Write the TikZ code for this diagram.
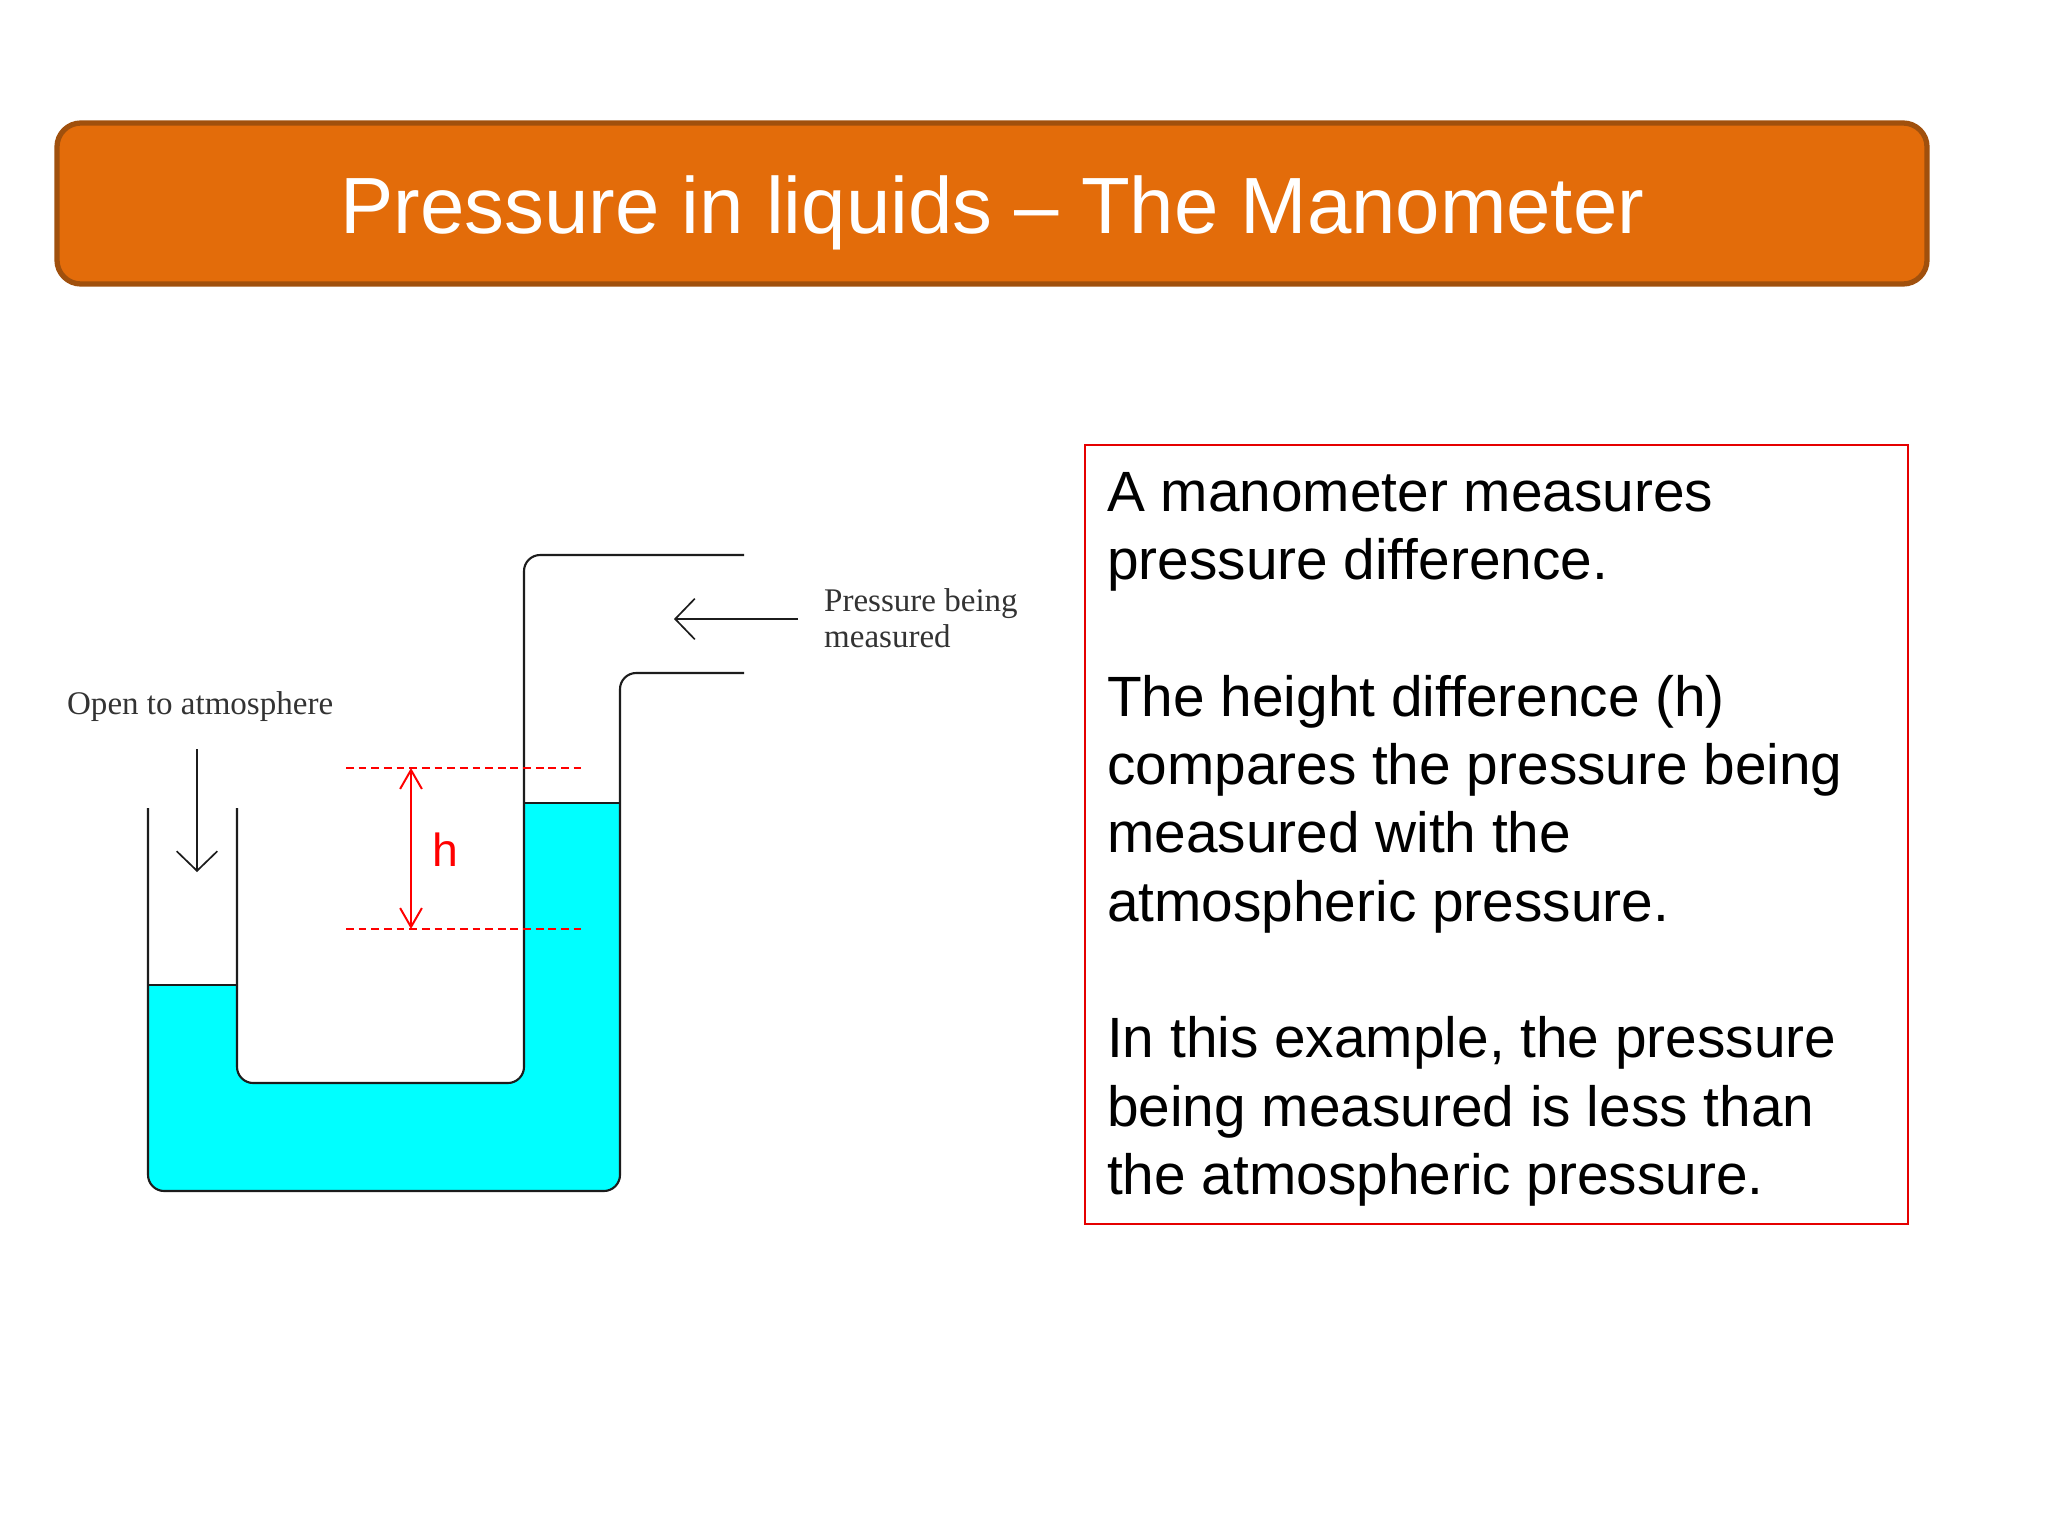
\documentclass[tikz,border=0pt]{standalone}
\usepackage{fontspec}
\usetikzlibrary{arrows.meta}
\setmainfont{Liberation Sans}
\newfontfamily\labelserif{Liberation Serif}
\definecolor{titlefill}{HTML}{E36C0A}
\definecolor{titleedge}{HTML}{A0500D}
\definecolor{tubeline}{HTML}{1C1C1C}
\definecolor{liquidcyan}{HTML}{00FFFF}
\tikzset{
  titlebox/.style={draw=titleedge,fill=titlefill,line width=7.5pt,rounded corners=34pt},
  notebox/.style={draw=red!90!black,line width=2.6pt},
  tube/.style={draw=tubeline,line width=3pt,rounded corners=23pt},
  liquid/.style={fill=liquidcyan,draw=none,rounded corners=23pt},
  level/.style={draw=tubeline,line width=3pt},
  guide/.style={draw=red,line width=2pt,dash pattern=on 11pt off 7pt},
  span/.style={draw=red,line width=2.8pt,{Straight Barb[length=27pt,width=31pt]}-{Straight Barb[length=27pt,width=31pt]}},
  pointer/.style={draw=tubeline,line width=2.4pt,-{Straight Barb[length=28pt,width=58pt]}},
  serifnote/.style={font=\labelserif\fontsize{47pt}{55pt}\selectfont,text=black!80,inner sep=0pt,align=left},
}
\begin{document}
\begin{tikzpicture}[x=0.05cm,y=-0.05cm]
\useasboundingbox (0,0) rectangle (2048,1536);
\fill[white] (0,0) rectangle (2048,1536);
% title
\draw[titlebox] (57,123) rectangle (1927,284);
\node[text=white,inner sep=0pt,font=\fontsize{113.5pt}{120pt}\selectfont] (title) at (992.5,213) {Pressure in liquids – The Manometer};
% note
\draw[notebox] (1085,445) rectangle (1908,1224);
\node[anchor=north west,inner sep=0pt,align=left,font=\fontsize{80.8pt}{97.2pt}\selectfont] (note) at (1107,472) {A manometer measures\\pressure difference.\\[97.2pt]The height difference (h)\\compares the pressure being\\measured with the\\atmospheric pressure.\\[97.2pt]In this example, the pressure\\being measured is less than\\the atmospheric pressure.};
% liquid
\fill[liquid] (148,985) -- (237,985) -- (237,1083) -- (524,1083) -- (524,803) -- (620,803) -- (620,1191) -- (148,1191) -- cycle;
\fill[liquidcyan] (148,985) rectangle (237,1010);
\fill[liquidcyan] (524,803) rectangle (620,830);
% tubes
\draw[tube] (148,808) -- (148,1191) -- (620,1191) -- (620,673) -- (744,673);
\draw[tube] (237,808) -- (237,1083) -- (524,1083) -- (524,555) -- (744,555);
\draw[level] (148,985) -- (237,985);
\draw[level] (524,803) -- (620,803);
% labels
\node[serifnote,anchor=base west] (openlabel) at (67,714) {Open to atmosphere};
\node[serifnote,anchor=base west] (presslabel) at (824,611) {Pressure being};
\node[serifnote,anchor=base west] (measlabel) at (824,647) {measured};
% pointers
\coordinate (openstart) at (197,749);
\coordinate (openend) at (197,872);
\draw[pointer] (openstart) -- (openend);
\coordinate (pressstart) at (798,619);
\coordinate (pressend) at (674,619);
\draw[pointer] (pressstart) -- (pressend);
% height
\coordinate (gta) at (346,768);
\coordinate (gtb) at (585,768);
\coordinate (gba) at (346,929);
\coordinate (gbb) at (585,929);
\draw[guide] (gta) -- (gtb);
\draw[guide] (gba) -- (gbb);
\coordinate (spant) at (411,768);
\coordinate (spanb) at (411,929);
\draw[span] (spant) -- (spanb);
\node[text=red,inner sep=0pt,font=\fontsize{66pt}{70pt}\selectfont] (hlabel) at (445,850) {h};
\end{tikzpicture}
\end{document}
